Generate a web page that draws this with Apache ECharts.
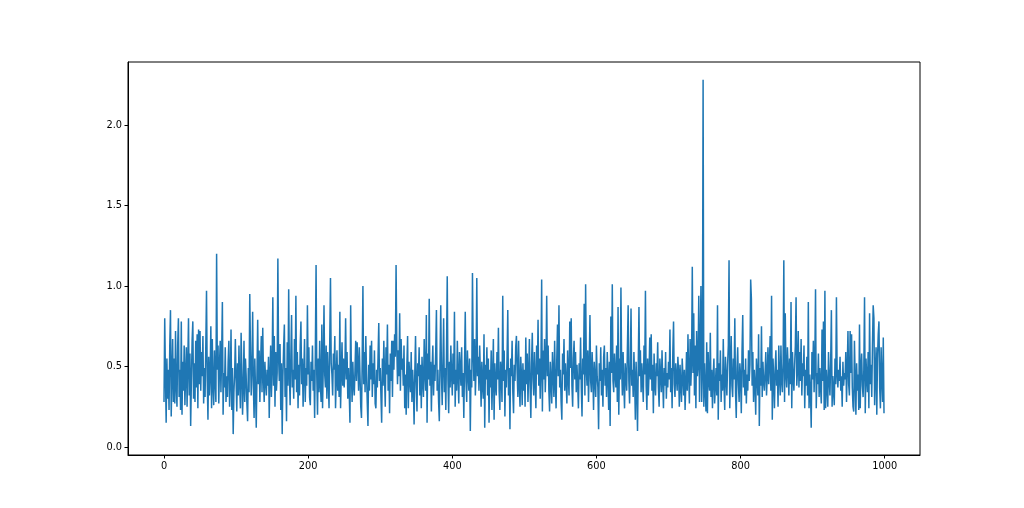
<!DOCTYPE html>
<html>
<head>
<meta charset="utf-8">
<script src="https://cdn.jsdelivr.net/npm/echarts@6/dist/echarts.min.js"></script>
<style>
html,body{margin:0;padding:0;background:#fff;}
#chart{width:1024px;height:508px;}
</style>
</head>
<body>
<div id="chart"></div>
<script>
// Series values (index = x position 0..999)
var values = [
0.28,0.80,0.45,0.15,0.55,0.30,0.48,0.23,0.63,0.85,0.19,0.44,0.67,0.28,0.55,0.27,0.72,0.38,0.25,0.63,0.80,0.31,0.48,0.23,0.78,
0.20,0.53,0.35,0.63,0.26,0.45,0.62,0.25,0.51,0.80,0.32,0.58,0.13,0.41,0.66,0.78,0.30,0.52,0.28,0.66,0.37,0.70,0.24,0.73,0.39,
0.72,0.35,0.59,0.44,0.69,0.27,0.49,0.31,0.63,0.97,0.41,0.17,0.56,0.32,0.45,0.75,0.24,0.67,0.38,0.26,0.60,0.42,0.28,1.20,0.48,
0.63,0.27,0.51,0.66,0.34,0.58,0.90,0.20,0.46,0.37,0.62,0.28,0.44,0.31,0.53,0.66,0.25,0.41,0.73,0.23,0.49,0.08,0.34,0.45,0.67,
0.42,0.22,0.52,0.32,0.63,0.39,0.24,0.71,0.46,0.20,0.37,0.66,0.28,0.55,0.44,0.27,0.16,0.49,0.34,0.95,0.59,0.32,0.48,0.84,0.38,
0.18,0.55,0.35,0.12,0.45,0.79,0.39,0.60,0.28,0.51,0.69,0.34,0.74,0.44,0.28,0.53,0.41,0.32,0.48,0.38,0.56,0.18,0.44,0.63,0.31,
0.49,0.93,0.38,0.69,0.25,0.59,0.35,0.46,1.17,0.55,0.41,0.64,0.23,0.52,0.08,0.44,0.62,0.76,0.31,0.49,0.16,0.65,0.38,0.98,0.45,
0.26,0.56,0.82,0.37,0.48,0.30,0.67,0.42,0.94,0.34,0.59,0.24,0.51,0.32,0.63,0.78,0.39,0.55,0.25,0.46,0.67,0.28,0.49,0.38,0.88,
0.45,0.62,0.31,0.26,0.53,0.41,0.63,0.35,0.48,0.18,0.59,1.13,0.44,0.20,0.55,0.34,0.66,0.39,0.28,0.76,0.24,0.51,0.88,0.45,0.37,
0.63,0.30,0.59,0.41,0.24,0.67,1.05,0.52,0.45,0.32,0.58,0.48,0.69,0.24,0.42,0.60,0.35,0.51,0.31,0.84,0.24,0.46,0.65,0.38,0.55,
0.37,0.48,0.80,0.42,0.59,0.30,0.49,0.34,0.15,0.88,0.45,0.28,0.53,0.38,0.32,0.48,0.66,0.41,0.65,0.52,0.35,0.62,0.44,0.25,0.18,
0.55,1.00,0.39,0.59,0.34,0.69,0.46,0.28,0.13,0.51,0.35,0.63,0.42,0.66,0.31,0.52,0.39,0.60,0.27,0.24,0.48,0.37,0.56,0.77,0.41,
0.49,0.32,0.15,0.55,0.38,0.66,0.44,0.25,0.62,0.45,0.76,0.35,0.51,0.21,0.58,0.41,0.66,0.31,0.66,0.48,0.70,0.56,1.13,0.63,0.39,
0.60,0.44,0.83,0.35,0.67,0.48,0.55,0.38,0.63,0.24,0.45,0.20,0.51,0.69,0.24,0.53,0.42,0.34,0.59,0.28,0.48,0.37,0.14,0.46,0.69,
0.39,0.22,0.52,0.44,0.62,0.32,0.51,0.24,0.56,0.41,0.31,0.67,0.46,0.35,0.82,0.15,0.58,0.42,0.92,0.38,0.53,0.22,0.48,0.63,0.32,
0.51,0.41,0.59,0.85,0.35,0.48,0.28,0.16,0.55,0.88,0.44,0.26,0.52,0.80,0.34,0.49,0.23,0.60,1.06,0.42,0.21,0.53,0.37,0.63,0.45,
0.32,0.58,0.39,0.84,0.25,0.48,0.35,0.66,0.44,0.27,0.59,0.49,0.38,0.62,0.31,0.46,0.18,0.52,0.84,0.41,0.28,0.60,0.45,0.35,0.55,
0.10,0.48,0.37,1.08,0.59,0.41,0.67,0.32,0.49,1.05,0.44,0.56,0.35,0.63,0.46,0.25,0.53,0.38,0.30,0.70,0.12,0.51,0.42,0.62,0.32,
0.55,0.15,0.48,0.37,0.60,0.23,0.44,0.67,0.17,0.52,0.39,0.32,0.59,0.42,0.74,0.35,0.23,0.53,0.45,0.28,0.94,0.41,0.60,0.19,0.48,
0.37,0.56,0.85,0.32,0.49,0.11,0.55,0.44,0.66,0.34,0.21,0.51,0.41,0.62,0.69,0.46,0.31,0.66,0.38,0.25,0.56,0.44,0.26,0.52,0.35,
0.48,0.25,0.68,0.39,0.58,0.28,0.46,0.67,0.37,0.18,0.52,0.71,0.42,0.32,0.59,0.41,0.24,0.63,0.45,0.79,0.38,0.55,0.30,0.48,1.04,
0.22,0.60,0.42,0.67,0.34,0.51,0.94,0.44,0.63,0.35,0.22,0.53,0.41,0.27,0.59,0.46,0.31,0.66,0.39,0.24,0.55,0.76,0.44,0.88,0.37,
0.48,0.28,0.17,0.58,0.45,0.67,0.35,0.52,0.41,0.27,0.60,0.44,0.32,0.78,0.49,0.80,0.38,0.25,0.55,0.66,0.42,0.59,0.34,0.51,0.39,
0.24,0.52,0.42,0.68,0.37,0.19,0.55,0.45,0.89,0.32,1.01,0.48,0.38,0.60,0.28,0.49,0.82,0.41,0.34,0.59,0.46,0.23,0.53,0.42,0.31,
0.63,0.44,0.37,0.11,0.52,0.41,0.62,0.32,0.48,0.25,0.56,0.63,0.38,0.49,0.31,0.59,0.44,0.23,0.53,0.13,0.81,0.46,1.01,0.41,0.34,
0.58,0.45,0.37,0.63,0.28,0.87,0.20,0.55,0.42,0.99,0.49,0.32,0.59,0.39,0.24,0.52,0.44,0.35,0.62,0.88,0.41,0.27,0.51,0.86,0.38,
0.48,0.31,0.59,0.42,0.17,0.53,0.37,0.10,0.49,0.87,0.44,0.60,0.34,0.52,0.41,0.28,0.63,0.45,0.97,0.38,0.23,0.55,0.32,0.46,0.68,
0.42,0.70,0.35,0.51,0.21,0.58,0.39,0.32,0.52,0.44,0.65,0.37,0.25,0.55,0.45,0.34,0.60,0.41,0.24,0.49,0.38,0.59,0.30,0.46,0.37,
0.53,0.42,0.73,0.34,0.49,0.24,0.59,0.78,0.39,0.31,0.52,0.44,0.35,0.56,0.46,0.25,0.51,0.38,0.28,0.55,0.44,0.32,0.48,0.23,0.39,
0.59,0.35,0.70,0.45,0.27,0.67,0.38,0.53,1.12,0.46,0.83,0.32,0.63,0.24,0.72,0.44,0.51,0.94,0.28,0.62,1.00,0.28,0.45,2.28,0.25,
0.52,0.35,0.22,0.65,0.21,0.59,0.41,0.35,0.71,0.31,0.48,0.24,0.44,0.55,0.27,0.38,0.49,0.32,0.88,0.17,0.52,0.41,0.60,0.28,0.45,
0.35,0.67,0.39,0.23,0.56,0.44,0.32,0.51,0.63,1.16,0.24,0.48,0.69,0.38,0.31,0.55,0.42,0.80,0.34,0.18,0.49,0.62,0.39,0.28,0.52,
0.44,0.21,0.59,0.82,0.37,0.48,0.32,0.55,0.27,0.45,0.35,0.60,0.41,0.51,1.04,0.92,0.38,0.59,0.28,0.48,0.39,0.20,0.55,0.44,0.32,
0.70,0.13,0.49,0.38,0.75,0.31,0.53,0.41,0.35,0.46,0.59,0.32,0.44,0.62,0.39,0.51,0.69,0.35,0.94,0.17,0.55,0.42,0.24,0.49,0.60,
0.38,0.48,0.25,0.63,0.44,0.32,0.63,0.41,0.34,0.52,1.16,0.28,0.83,0.45,0.37,0.62,0.49,0.32,0.55,0.39,0.90,0.24,0.59,0.44,0.35,
0.51,0.63,0.93,0.38,0.48,0.72,0.37,0.59,0.41,0.67,0.32,0.52,0.44,0.63,0.24,0.48,0.38,0.56,0.32,0.90,0.24,0.45,0.35,0.12,0.59,
0.42,0.66,0.34,0.51,0.98,0.24,0.46,0.39,0.58,0.31,0.49,0.37,0.27,0.73,0.41,0.78,0.23,0.97,0.24,0.48,0.38,0.25,0.59,0.42,0.32,
0.52,0.85,0.25,0.44,0.35,0.26,0.55,0.39,0.93,0.45,0.37,0.48,0.41,0.56,0.35,0.44,0.25,0.53,0.38,0.46,0.42,0.59,0.28,0.49,0.72,
0.39,0.32,0.72,0.46,0.70,0.37,0.25,0.22,0.66,0.42,0.20,0.52,0.35,0.45,0.23,0.76,0.24,0.49,0.58,0.38,0.31,0.48,0.93,0.21,0.55,
0.44,0.34,0.59,0.24,0.83,0.39,0.51,0.31,0.63,0.88,0.80,0.26,0.45,0.62,0.20,0.55,0.70,0.78,0.37,0.24,0.62,0.42,0.28,0.68,0.21
];
var xTicks = [0, 200, 400, 600, 800, 1000];
var yTicks = [0.0, 0.5, 1.0, 1.5, 2.0];

var seriesData = values.map(function (v, i) { return [i, v]; });

var chart = echarts.init(document.getElementById('chart'), null, {renderer: 'canvas'});
var fontFamily = 'DejaVu Sans';
chart.setOption({
  animation: false,
  backgroundColor: '#ffffff',
  grid: {
    left: 128, right: 104, top: 62, bottom: 53,
    show: true, borderColor: '#000000', borderWidth: 1, backgroundColor: 'transparent'
  },
  xAxis: {
    type: 'value',
    min: -49.95, max: 1048.95,
    axisLine: {show: true, onZero: false, lineStyle: {color: '#000', width: 1}},
    axisTick: {show: true, inside: false, length: 3.5, customValues: xTicks, lineStyle: {color: '#000', width: 1}},
    axisLabel: {show: true, customValues: xTicks, margin: 6, color: '#000', fontSize: 9.8, fontFamily: fontFamily,
      formatter: function (v) { return String(v); }},
    splitLine: {show: false}
  },
  yAxis: {
    type: 'value',
    min: -0.0497, max: 2.391,
    axisLine: {show: true, onZero: false, lineStyle: {color: '#000', width: 1}},
    axisTick: {show: true, inside: false, length: 3.5, customValues: yTicks, lineStyle: {color: '#000', width: 1}},
    axisLabel: {show: true, customValues: yTicks, margin: 6, color: '#000', fontSize: 9.8, fontFamily: fontFamily,
      formatter: function (v) { return Number(v).toFixed(1); }},
    splitLine: {show: false}
  },
  series: [{
    type: 'line',
    data: seriesData,
    showSymbol: false,
    symbol: 'none',
    clip: true,
    lineStyle: {color: '#1f77b4', width: 1.5},
    itemStyle: {color: '#1f77b4'}
  }]
});
</script>
</body>
</html>
